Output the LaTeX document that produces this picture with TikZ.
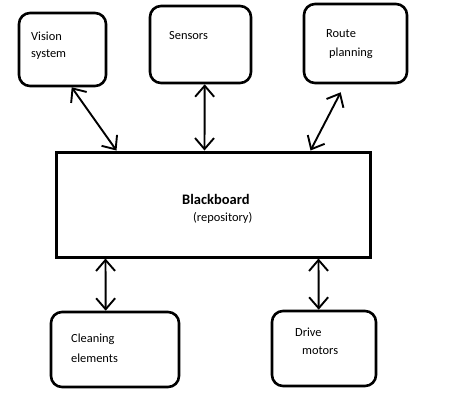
\documentclass[tikz,border=0pt]{standalone}
\usepackage{fontspec}
\setmainfont{Carlito}
\usetikzlibrary{arrows.meta}
\begin{document}
\begin{tikzpicture}[x=1pt,y=-1pt,
  box/.style={draw,line width=2.6pt,rounded corners=11pt,inner sep=0pt},
  board/.style={draw,line width=3pt,inner sep=0pt},
  lbl/.style={anchor=west,inner sep=0pt,font=\fontsize{12.4}{15}\selectfont},
  link/.style={line width=1.9pt,{Straight Barb[length=11pt,width=19pt,line width=1.9pt]}-{Straight Barb[length=11pt,width=19pt,line width=1.9pt]}}]
\useasboundingbox (0,0) rectangle (450,402);
\fill[white] (0,0) rectangle (450,402);
% boxes
\node[box,minimum width=87pt,minimum height=73pt] (vis) at (62.5,49.5) {};
\node[box,minimum width=101pt,minimum height=77pt] (sen) at (200.5,44.5) {};
\node[box,minimum width=103pt,minimum height=79pt] (rp) at (355.5,43.5) {};
\node[board,minimum width=314pt,minimum height=105pt] (bb) at (213,204.5) {};
\node[box,minimum width=128pt,minimum height=75pt] (cl) at (115,349.5) {};
\node[box,minimum width=104pt,minimum height=75pt] (dm) at (324,348.5) {};
% labels
\node[lbl] (t1) at (31,36) {Vision};
\node[lbl] (t2) at (31,55) {system};
\node[lbl] (t3) at (169,36) {Sensors};
\node[lbl] (t4) at (326,34) {Route};
\node[lbl] (t5) at (329,53) {planning};
\node[anchor=west,inner sep=0pt,font=\fontsize{14.5}{17}\selectfont\bfseries] (t6) at (182,199) {Blackboard};
\node[lbl] (t7) at (193,218) {(repository)};
\node[lbl] (t8) at (71,339) {Cleaning};
\node[lbl] (t9) at (71,358) {elements};
\node[lbl] (t10) at (295,332) {Drive};
\node[lbl] (t11) at (302,351) {motors};
% connectors
\draw[link] ([xshift=54pt]vis.south west) -- ([xshift=62pt]bb.north west);
\draw[link] ([xshift=56pt]sen.south west) -- ([xshift=150pt]bb.north west);
\draw[link] ([shift={(38,8)}]rp.south west) -- ([xshift=256pt]bb.north west);
\draw[link] ([xshift=51pt]bb.south west) -- ([xshift=56pt]cl.north west);
\draw[link] ([xshift=264pt]bb.south west) -- ([xshift=48pt]dm.north west);
\end{tikzpicture}
\end{document}
